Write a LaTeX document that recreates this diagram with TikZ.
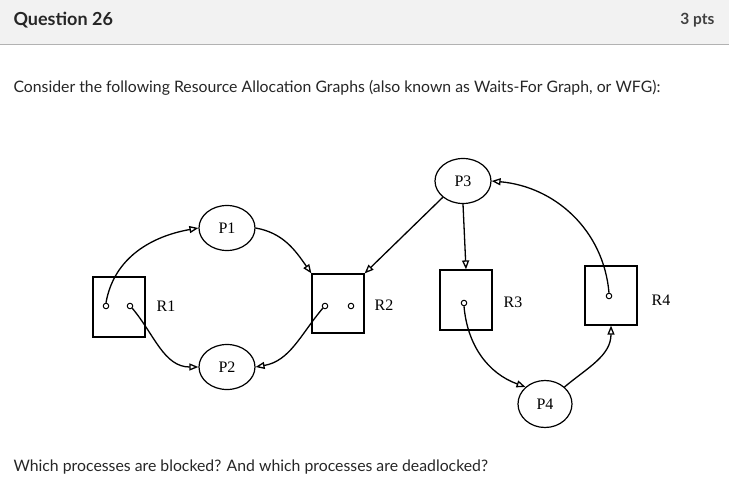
\documentclass[tikz,border=0pt]{standalone}
\usepackage{fontspec}
\setmainfont{Lato}
\newfontfamily\tfont{Liberation Serif}
\usetikzlibrary{arrows.meta,shapes.geometric}
\begin{document}
\begin{tikzpicture}[x=1pt,y=-1pt,
  proc/.style={draw,ellipse,line width=1.2pt,minimum width=56pt,minimum height=45pt,inner sep=0pt,font=\tfont\fontsize{16}{16}\selectfont},
  res/.style={draw,rectangle,line width=1.2pt,inner sep=0pt},
  dot/.style={draw,circle,line width=1pt,minimum size=5.5pt,inner sep=0pt},
  lbl/.style={font=\tfont\fontsize{16}{16}\selectfont},
  edge/.style={-{Triangle[open,length=9pt,width=7pt]},line width=1.3pt}]
\useasboundingbox (0,0) rectangle (729,500);
\fill[gray!10] (0,0) rectangle (729,44);
\draw[gray!60] (0,44) -- (729,44);
\node[anchor=west,font=\bfseries\fontsize{18}{18}\selectfont,text=black!85] (q) at (10,20) {Question 26};
\node[anchor=east,font=\bfseries\fontsize{15.5}{15.5}\selectfont,text=black!75] (pts) at (718,20) {3 pts};
\node[anchor=west,font=\fontsize{15.8}{15.8}\selectfont,text=black!85] (t1) at (10,88) {Consider the following Resource Allocation Graphs (also known as Waits-For Graph, or WFG):};
\node[anchor=west,font=\fontsize{15.8}{15.8}\selectfont,text=black!85] (t2) at (10,467) {Which processes are blocked? And which processes are deadlocked?};

\node[res,minimum width=52pt,minimum height=60pt] (R1) at (119,307) {};
\node[res,minimum width=52pt,minimum height=59pt] (R2) at (338,303.5) {};
\node[res,minimum width=52pt,minimum height=60pt] (R3) at (466,300) {};
\node[res,minimum width=52pt,minimum height=59pt] (R4) at (611,295.5) {};
\node[dot] (r1a) at (106,306) {};
\node[dot] (r1b) at (130,306) {};
\node[dot] (r2a) at (325,306) {};
\node[dot] (r2b) at (351,306) {};
\node[dot] (r3a) at (464,303) {};
\node[dot] (r4a) at (609,296) {};
\node[lbl] (l1) at (166,306) {R1};
\node[lbl] (l2) at (384,305) {R2};
\node[lbl] (l3) at (513,302) {R3};
\node[lbl] (l4) at (661,300) {R4};

\node[proc] (P1) at (227,228) {P1};
\node[proc] (P2) at (227,367) {P2};
\node[proc] (P3) at (463,181) {P3};
\node[proc,minimum width=54pt,minimum height=47pt] (P4) at (545,404) {P4};

\draw[edge] (r1a.north) to[out=80,in=190] (P1.west);
\draw[edge] (r1b.south east) to[out=-50,in=180] (P2.west);
\draw[edge] (P1.east) to[out=-10,in=125] (R2.north west);
\draw[edge] (P3.south west) -- (R2.north east);
\draw[edge] (r2a.south west) to[out=-130,in=10] (P2.east);
\draw[edge] (P3.south) -- (R3.north);
\draw[edge] (r3a.south) to[out=-85,in=160] (P4.north west);
\draw[edge] (P4.north east) to[out=40,in=-90] (R4.south);
\draw[edge] (r4a.north) to[out=95,in=-5] (P3.east);
\end{tikzpicture}
\end{document}
